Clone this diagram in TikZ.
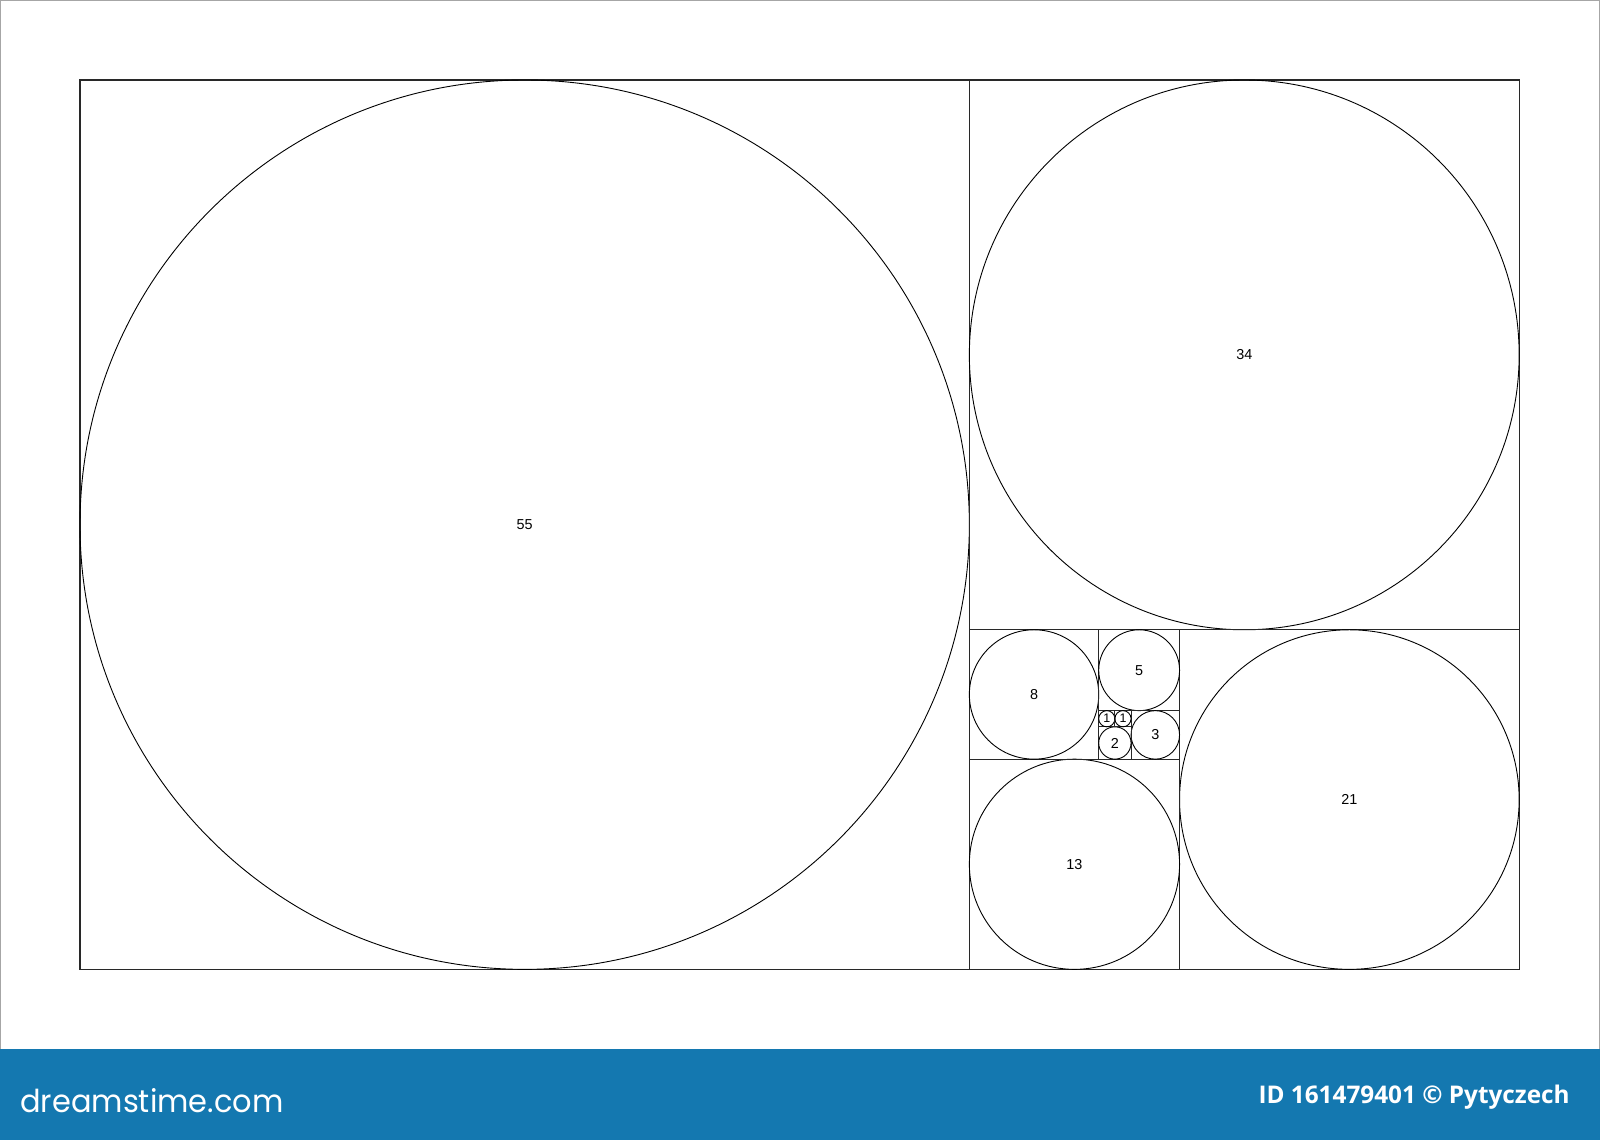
\documentclass[tikz,border=0pt]{standalone}
\usepackage{fontspec}
\usepackage{graphicx}
\setmainfont{Liberation Sans}
\newfontfamily\logofont{Poppins}
\newfontfamily\idfont{Open Sans}
\definecolor{bannerblue}{RGB}{20,120,176}
\definecolor{linegray}{RGB}{40,40,40}
\tikzset{
  fibcircle/.style={circle, draw=black, line width=0.45pt, inner sep=0pt, font=\fontsize{7.2pt}{8pt}\selectfont},
  fibsquare/.style={draw=linegray, line width=0.55pt},
  smalllabel/.style={font=\fontsize{6.2pt}{7pt}\selectfont},
}
\newcommand{\fibsq}[5]{%
  \draw[fibsquare] (#1,#2) rectangle ++(#3,#3);
  \node[fibcircle, minimum size={#3*8.085pt}] (#5) at ({#1+#3/2},{#2+#3/2}) {#4};
}
\begin{document}
\begin{tikzpicture}[x=0.5pt,y=-0.5pt]
\useasboundingbox (0,0) rectangle (1600,1140);
\fill[white] (0,0) rectangle (1600,1140);
\draw[gray!70, line width=0.6pt] (0.5,0.5) rectangle (1599.5,1139.5);
\fill[bannerblue] (0,1049) rectangle (1600,1140);
\node[anchor=base west, inner sep=0pt, text=white] (logo) at (20,1112)
  {\resizebox{131.5pt}{12pt}{\logofont dreamstime.com}};
\node[anchor=base east, inner sep=0pt, text=white] (credit) at (1570,1103)
  {\resizebox{155.5pt}{!}{\idfont\bfseries ID 161479401 © Pytyczech}};
\begin{scope}[xshift=40pt, yshift=-40pt, x=8.085pt, y=-8.085pt]
  \fibsq{0}{0}{55}{55}{c55}
  \fibsq{55}{0}{34}{34}{c34}
  \fibsq{68}{34}{21}{21}{c21}
  \fibsq{55}{42}{13}{13}{c13}
  \fibsq{55}{34}{8}{8}{c8}
  \fibsq{63}{34}{5}{5}{c5}
  \fibsq{65}{39}{3}{3}{c3}
  \fibsq{63}{40}{2}{2}{c2}
  \draw[fibsquare] (63,39) rectangle ++(1,1);
  \node[fibcircle, minimum size=8.085pt, smalllabel] (c1a) at (63.5,39.5) {1};
  \draw[fibsquare] (64,39) rectangle ++(1,1);
  \node[fibcircle, minimum size=8.085pt, smalllabel] (c1b) at (64.5,39.5) {1};
\end{scope}
\end{tikzpicture}
\end{document}
